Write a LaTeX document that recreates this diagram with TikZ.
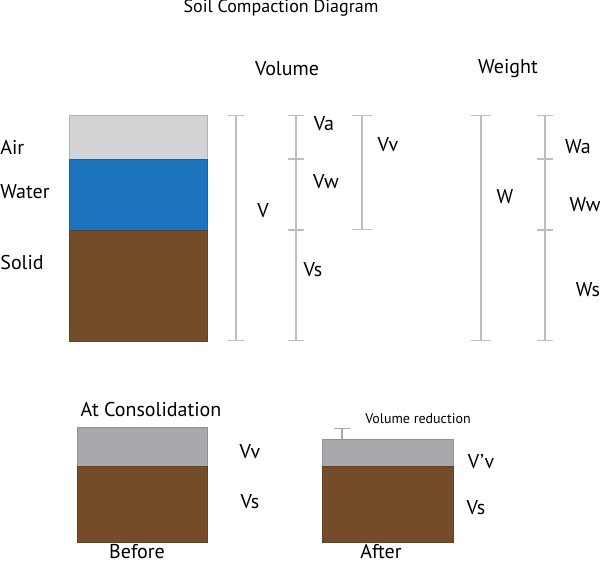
\documentclass[tikz,border=0pt]{standalone}
\usepackage{fontspec}
\setmainfont{PT Sans}
\usetikzlibrary{arrows.meta}

\definecolor{airgray}{HTML}{D1D3D4}
\definecolor{waterblue}{HTML}{1C75BC}
\definecolor{soilbrown}{HTML}{754C29}
\definecolor{voidgray}{HTML}{A7A9AC}
\definecolor{linegray}{HTML}{BCBEC0}

\tikzset{
  layer/.style={shape=rectangle,anchor=north west,inner sep=0pt,outer sep=0pt,draw=#1!85!black,line width=0.3pt,fill=#1},
  lbl/.style={font=\fontsize{10}{12}\selectfont,inner sep=0pt},
  dimline/.style={draw=linegray,line width=0.6pt,{Bar[width=8pt]}-{Bar[width=8pt]}},
  widedim/.style={draw=linegray,line width=0.6pt,{Bar[width=10pt]}-{Bar[width=10pt]}}
}

\begin{document}
\begin{tikzpicture}[x=0.5pt,y=-0.5pt]
\useasboundingbox (0,0) rectangle (600,579);

% headers
\node[font=\fontsize{9}{11}\selectfont,inner sep=0pt] (title) at (281,8) {Soil Compaction Diagram};
\node[lbl] (volume) at (287,69) {Volume};
\node[lbl] (weight) at (508,69) {Weight};

% phase column
\node[layer=airgray,minimum width=69pt,minimum height=22pt] (air) at (69,115) {};
\node[layer=waterblue,minimum width=69pt,minimum height=35.5pt] (water) at (69,159) {};
\node[layer=soilbrown,minimum width=69pt,minimum height=55.5pt] (solid) at (69,230) {};
\node[lbl,anchor=west] (airlbl) at (0,147) {Air};
\node[lbl,anchor=west] (waterlbl) at (0,192) {Water};
\node[lbl,anchor=west] (solidlbl) at (0,262) {Solid};

% volume bars
\coordinate (v0) at (236,115);
\coordinate (v1) at (236,341);
\coordinate (p0) at (296,115);
\coordinate (p1) at (296,159);
\coordinate (p2) at (296,230);
\coordinate (p3) at (296,341);
\coordinate (q0) at (362,115);
\coordinate (q1) at (362,230);
\path [dimline] (v0) -- (v1);
\path [dimline] (p0) -- (p1);
\path [dimline] (p1) -- (p2);
\path [dimline] (p2) -- (p3);
\path [widedim] (q0) -- (q1);
\node[lbl] (V) at (263,211) {V};
\node[lbl] (Va) at (324,124) {Va};
\node[lbl] (Vw) at (326,182) {Vw};
\node[lbl] (Vs) at (313,270) {Vs};
\node[lbl] (Vv) at (388,145) {Vv};

% weight bars
\coordinate (w0) at (481,115);
\coordinate (w1) at (481,341);
\coordinate (r0) at (545,115);
\coordinate (r1) at (545,159);
\coordinate (r2) at (545,230);
\coordinate (r3) at (545,341);
\path [widedim] (w0) -- (w1);
\path [dimline] (r0) -- (r1);
\path [dimline] (r1) -- (r2);
\path [dimline] (r2) -- (r3);
\node[lbl] (W) at (505,197) {W};
\node[lbl] (Wa) at (578,147) {Wa};
\node[lbl] (Ww) at (585,205) {Ww};
\node[lbl] (Ws) at (588,290) {Ws};

% consolidation, before
\node[lbl] (consol) at (151,409) {At Consolidation};
\node[layer=voidgray,minimum width=65pt,minimum height=19.5pt] (bvoid) at (77,427) {};
\node[layer=soilbrown,minimum width=65pt,minimum height=38pt] (bsolid) at (77,466) {};
\node[lbl] (bVv) at (250,452) {Vv};
\node[lbl] (bVs) at (250,502) {Vs};
\node[lbl] (before) at (137,552) {Before};

% consolidation, after
\node[layer=voidgray,minimum width=65.5pt,minimum height=13.5pt] (avoid) at (322,439) {};
\node[layer=soilbrown,minimum width=65.5pt,minimum height=38pt] (asolid) at (322,466) {};
\coordinate (red0) at (342,439);
\coordinate (red1) at (342,428);
\path [draw=voidgray,line width=0.6pt,-{Bar[width=8pt]}] (red0) -- (red1);
\node[font=\fontsize{7}{8}\selectfont,inner sep=0pt] (reduction) at (418,419) {Volume reduction};
\node[lbl] (aVv) at (481,462) {V’v};
\node[lbl] (aVs) at (476,508) {Vs};
\node[lbl] (after) at (381,552) {After};
\end{tikzpicture}
\end{document}
